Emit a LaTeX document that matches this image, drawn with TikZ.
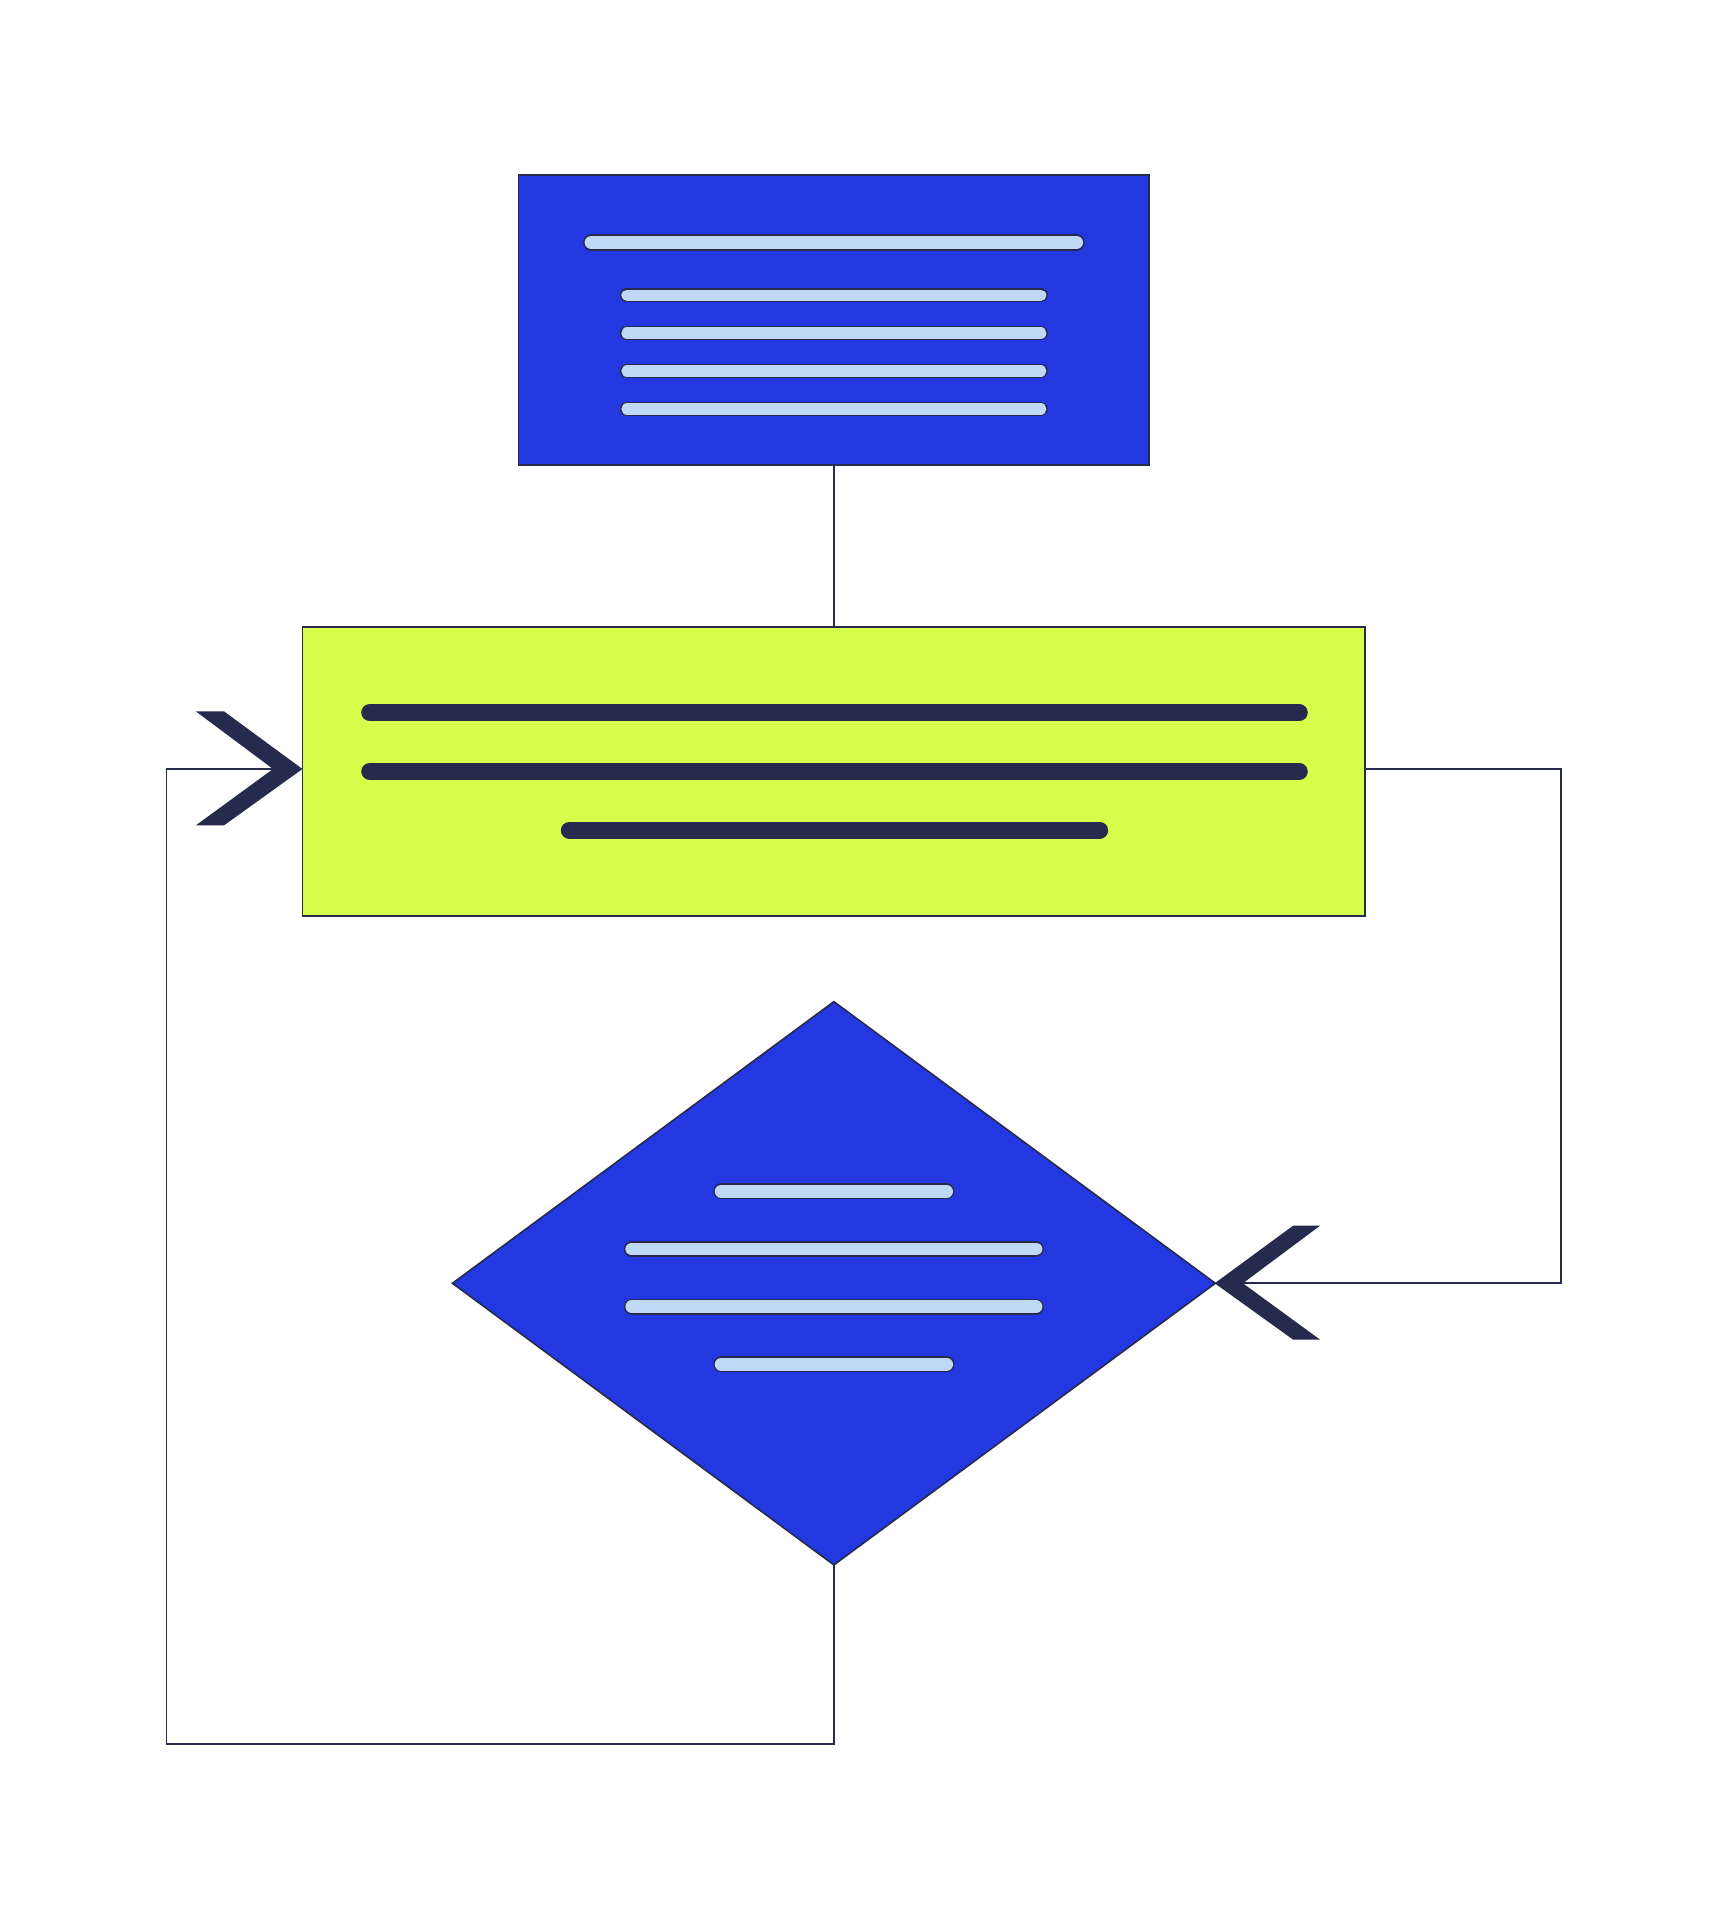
\documentclass[tikz,border=0pt]{standalone}
\usetikzlibrary{shapes.geometric}
\definecolor{navy}{HTML}{262A4C}
\definecolor{rblue}{HTML}{2338E0}
\definecolor{lime}{HTML}{D5FF4B}
\definecolor{pale}{HTML}{BFD8F6}
\tikzset{
  box/.style={draw=navy, line width=1.5pt, inner sep=0pt, outer sep=0pt},
  conn/.style={draw=navy, line width=1.5pt},
  chev/.style={fill=navy, draw=none},
  darkbar/.style={draw=navy, line width=14pt, line cap=round},
  palebar/.style={draw=navy, line width=#1, line cap=round},
  paleinner/.style={draw=pale, line width=#1, line cap=round},
}
\newcommand{\palebarline}[4]{%
  \draw[palebar=#4pt] (#1,#3) -- (#2,#3);
  \draw[paleinner=#4pt-2.4pt] (#1,#3) -- (#2,#3);
}
\begin{document}
\begin{tikzpicture}[x=1pt,y=-1pt]
\useasboundingbox (0,0) rectangle (1410,1568);
\fill[white] (0,0) rectangle (1410,1568);
% boxes
\node[box, fill=rblue, rectangle, minimum width=515pt, minimum height=237pt] (top) at (681,261.5) {};
\node[box, fill=lime, rectangle, minimum width=868pt, minimum height=236pt] (mid) at (681,630) {};
\node[box, fill=rblue, diamond, minimum width=623pt, minimum height=460pt, line width=1.3pt] (dia) at (681,1048) {};
% bars in top box
\palebarline{483}{879}{198}{13.5}
\palebarline{512}{850}{241}{11.5}
\palebarline{512}{850}{272}{11.5}
\palebarline{512}{850}{303}{11.5}
\palebarline{512}{850}{334}{11.5}
% bars in middle box
\draw[darkbar] (302,582) -- (1061,582);
\draw[darkbar] (302,630) -- (1061,630);
\draw[darkbar] (465,678) -- (898,678);
% bars in diamond
\palebarline{589}{773}{973}{13}
\palebarline{516}{846}{1020}{13}
\palebarline{516}{846}{1067}{13}
\palebarline{589}{773}{1114}{13}
% connectors
\coordinate (lin) at (223,628);
\coordinate (rin) at (1015,1048);
\draw[conn] (top.south) -- (mid.north);
\draw[conn] (dia.south) -- (681,1424) -- (136,1424) -- (136,628) -- (lin);
\draw[conn] (mid.east |- 0,628) -- (1275,628) -- (1275,1048) -- (rin);
% chevrons
\fill[chev] (160,581) -- (183,581) -- (247,628) -- (183,674) -- (160,674) -- (lin) -- cycle;
\fill[chev] (1078,1001) -- (1056,1001) -- (992,1048) -- (1056,1094) -- (1078,1094) -- (rin) -- cycle;
\end{tikzpicture}
\end{document}
